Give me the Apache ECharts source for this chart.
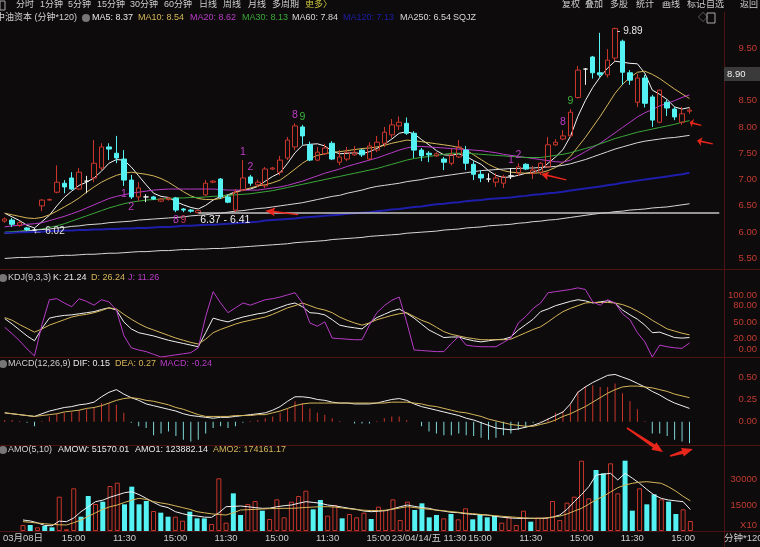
<!DOCTYPE html>
<html>
<head>
<meta charset="utf-8">
<script src="https://cdn.jsdelivr.net/npm/echarts@6/dist/echarts.min.js"></script>
<style>
  html, body { margin: 0; padding: 0; background: #0d0b0b; }
  #chart { width: 760px; height: 547px; }
</style>
</head>
<body>
<div id="chart"></div>
<script>
// [open, close, low, high] per 120-minute bar
const candles = [
  [6.21,6.25,6.18,6.28],[6.23,6.15,6.10,6.27],[6.13,6.18,6.10,6.21],[6.08,6.05,6.02,6.10],[6.04,6.04,6.02,6.08],
  [6.50,6.61,6.40,6.63],[6.61,6.62,6.60,6.64],[6.76,6.95,6.74,7.27],[6.93,6.86,6.74,6.99],[7.03,6.82,6.80,7.14],
  [6.82,7.14,6.80,7.22],[6.97,6.97,6.74,7.07],[7.03,7.31,6.95,7.75],[7.22,7.62,7.18,7.69],[7.62,7.58,7.37,7.69],
  [7.50,7.41,7.31,7.83],[7.39,6.99,6.88,7.56],[6.99,6.67,6.63,7.09],[6.67,6.84,6.59,6.95],[6.67,6.67,6.57,6.72],
  [6.67,6.63,6.61,6.69],[6.59,6.63,6.57,6.65],[6.62,6.65,6.60,6.67],[6.65,6.42,6.38,6.67],[6.44,6.42,6.38,6.46],
  [6.42,6.40,6.37,6.44],[6.37,6.41,6.36,6.42],[6.71,6.93,6.69,6.99],[6.95,6.97,6.93,6.99],[7.01,6.67,6.63,7.03],
  [6.67,6.57,6.55,6.71],[6.42,6.76,6.38,6.82],[6.80,7.03,6.78,7.37],[7.05,6.93,6.88,7.09],[6.90,6.95,6.86,7.00],
  [6.88,7.20,6.84,7.24],[7.20,7.22,7.18,7.24],[7.14,7.37,7.08,7.45],[7.41,7.75,7.37,7.81],[7.62,8.02,7.56,8.07],
  [8.00,7.83,7.66,8.04],[7.66,7.37,7.35,7.72],[7.37,7.52,7.35,7.62],[7.49,7.60,7.47,7.68],[7.69,7.39,7.37,7.73],
  [7.33,7.43,7.27,7.56],[7.39,7.52,7.35,7.62],[7.47,7.52,7.45,7.64],[7.56,7.47,7.43,7.58],[7.39,7.64,7.37,7.71],
  [7.56,7.71,7.52,7.83],[7.69,7.90,7.62,8.00],[7.85,8.04,7.79,8.15],[8.02,8.09,7.94,8.20],[8.07,7.88,7.85,8.18],
  [7.88,7.56,7.41,7.92],[7.56,7.45,7.35,7.60],[7.50,7.47,7.33,7.54],[7.45,7.49,7.43,7.52],[7.39,7.33,7.18,7.43],
  [7.31,7.47,7.27,7.58],[7.43,7.62,7.41,7.75],[7.56,7.31,7.18,7.64],[7.29,7.10,6.99,7.35],[7.10,7.03,6.95,7.18],
  [7.01,7.01,6.95,7.12],[6.95,7.03,6.86,7.12],[6.93,7.05,6.84,7.09],[7.07,7.07,7.01,7.22],[7.12,7.24,7.07,7.31],
  [7.29,7.20,7.18,7.31],[7.12,7.18,7.01,7.26],[7.14,7.31,7.09,7.33],[7.24,7.66,7.22,7.81],[7.66,7.71,7.64,7.77],
  [7.77,7.83,7.75,7.94],[7.83,8.28,7.81,8.34],[8.56,9.08,8.54,9.16],[9.10,9.10,8.80,9.12],[9.33,9.03,8.92,9.35],
  [9.03,8.99,8.94,9.79],[8.99,9.27,8.94,9.48],[9.31,9.87,9.25,9.89],[9.63,9.04,8.80,9.66],[9.03,8.89,8.80,9.08],
  [8.47,8.93,8.38,9.01],[8.93,8.45,8.37,8.99],[8.57,8.13,8.00,8.61],[8.09,8.70,8.07,8.71],[8.47,8.36,8.21,8.52],
  [8.34,8.19,8.13,8.38],[8.09,8.25,8.04,8.38],[8.30,8.32,8.25,8.36]
];

const ma5 = [6.36,6.29,6.22,6.13,6.08,6.20,6.32,6.50,6.66,6.78, 6.89,6.95,7.03,7.16,7.31,7.38,7.37,7.24,7.07,6.90,
  6.74,6.68,6.66,6.58,6.52,6.47,6.44,6.51,6.61,6.68, 6.71,6.77,6.80,6.82,6.87,6.97,7.06,7.13,7.31,7.51,
  7.65,7.67,7.68,7.64,7.54,7.49,7.50,7.51,7.49,7.53, 7.59,7.67,7.77,7.88,7.91,7.87,7.76,7.66,7.55,7.47,
  7.46,7.49,7.44,7.36,7.29,7.17,7.08,7.04,7.05,7.08, 7.12,7.14,7.19,7.31,7.43,7.57,7.82,8.20,8.50,8.75,
  8.95,9.12,9.25,9.23,9.21,9.20,9.02,8.70,8.62,8.52, 8.38,8.34,8.37];
const ma10 = [6.36,6.33,6.30,6.27,6.26,6.28,6.33,6.40,6.48,6.56, 6.65,6.76,6.86,6.95,7.02,7.08,7.12,7.14,7.12,7.10,
  7.07,7.02,6.95,6.86,6.77,6.69,6.64,6.62,6.62,6.64, 6.69,6.75,6.80,6.84,6.88,6.90,6.94,6.99,7.09,7.20,
  7.31,7.40,7.46,7.49,7.52,7.53,7.55,7.57,7.59,7.60, 7.62,7.65,7.69,7.72,7.75,7.74,7.72,7.70,7.68,7.66,
  7.64,7.61,7.56,7.47,7.38,7.29,7.22,7.17,7.14,7.13, 7.12,7.12,7.13,7.17,7.23,7.32,7.44,7.62,7.80,8.00,
  8.20,8.42,8.64,8.81,8.94,9.04,9.06,9.00,8.92,8.82, 8.72,8.63,8.54];
const ma20 = [6.10,6.12,6.13,6.15,6.16,6.18,6.22,6.26,6.30,6.35, 6.40,6.46,6.52,6.58,6.64,6.68,6.71,6.74,6.76,6.78,
  6.80,6.81,6.82,6.82,6.82,6.82,6.82,6.82,6.82,6.81, 6.80,6.80,6.80,6.80,6.80,6.82,6.84,6.86,6.89,6.93,
  6.97,7.02,7.07,7.12,7.16,7.20,7.25,7.29,7.33,7.37, 7.41,7.46,7.51,7.56,7.60,7.63,7.63,7.62,7.61,7.60,
  7.59,7.58,7.57,7.56,7.55,7.53,7.51,7.48,7.46,7.44, 7.42,7.40,7.38,7.36,7.34,7.33,7.37,7.45,7.53,7.61,
  7.69,7.79,7.89,7.99,8.09,8.19,8.27,8.33,8.40,8.45, 8.50,8.56,8.61];
const ma30 = [6.00,6.01,6.02,6.03,6.04,6.06,6.09,6.12,6.16,6.21, 6.26,6.31,6.36,6.41,6.46,6.50,6.54,6.57,6.59,6.61,
  6.62,6.63,6.64,6.65,6.65,6.66,6.66,6.67,6.68,6.69, 6.70,6.71,6.72,6.73,6.75,6.77,6.79,6.82,6.85,6.88,
  6.91,6.94,6.97,7.00,7.03,7.06,7.09,7.12,7.15,7.18, 7.21,7.25,7.29,7.33,7.37,7.40,7.42,7.44,7.46,7.48,
  7.50,7.50,7.50,7.49,7.48,7.47,7.46,7.45,7.44,7.43, 7.42,7.42,7.42,7.44,7.46,7.48,7.51,7.55,7.59,7.63,
  7.68,7.73,7.78,7.82,7.86,7.90,7.93,7.96,7.99,8.02, 8.05,8.09,8.12];
const ma60 = [5.98,5.99,6.01,6.02,6.04,6.05,6.06,6.08,6.09,6.11, 6.12,6.14,6.15,6.16,6.18,6.19,6.20,6.21,6.23,6.24,
  6.25,6.26,6.27,6.28,6.29,6.31,6.32,6.33,6.35,6.36, 6.38,6.40,6.41,6.43,6.45,6.46,6.48,6.50,6.52,6.54,
  6.56,6.59,6.62,6.65,6.68,6.70,6.74,6.77,6.80,6.84, 6.87,6.89,6.91,6.93,6.96,6.98,7.00,7.03,7.05,7.07,
  7.09,7.11,7.13,7.15,7.17,7.18,7.19,7.20,7.21,7.21, 7.22,7.22,7.23,7.24,7.25,7.27,7.30,7.34,7.38,7.43,
  7.48,7.53,7.58,7.62,7.66,7.70,7.73,7.75,7.77,7.79, 7.80,7.82,7.84];
const ma120 = [5.99,5.99,6.00,6.00,6.01,6.01,6.02,6.02,6.03,6.03, 6.04,6.04,6.05,6.05,6.06,6.06,6.07,6.07,6.08,6.08,
  6.09,6.10,6.10,6.11,6.12,6.12,6.13,6.14,6.14,6.15, 6.16,6.17,6.18,6.19,6.20,6.22,6.23,6.24,6.25,6.26,
  6.28,6.29,6.30,6.31,6.32,6.33,6.35,6.36,6.37,6.38, 6.40,6.41,6.43,6.44,6.46,6.48,6.49,6.51,6.53,6.54,
  6.56,6.57,6.59,6.60,6.61,6.63,6.64,6.65,6.66,6.68, 6.69,6.71,6.72,6.74,6.75,6.77,6.79,6.81,6.83,6.85,
  6.87,6.89,6.91,6.94,6.96,6.98,7.00,7.02,7.04,7.06, 7.08,7.10,7.13];
const ma250 = [5.50,5.51,5.52,5.52,5.53,5.53,5.54,5.55,5.56,5.56, 5.57,5.58,5.58,5.59,5.60,5.60,5.61,5.62,5.63,5.63,
  5.64,5.65,5.65,5.66,5.67,5.67,5.68,5.68,5.69,5.69, 5.70,5.71,5.72,5.73,5.74,5.75,5.76,5.77,5.78,5.80,
  5.81,5.82,5.83,5.84,5.86,5.87,5.88,5.89,5.90,5.92, 5.93,5.94,5.95,5.96,5.98,5.99,6.00,6.01,6.02,6.04,
  6.05,6.06,6.08,6.09,6.10,6.12,6.13,6.14,6.15,6.17, 6.18,6.20,6.21,6.23,6.24,6.26,6.28,6.30,6.32,6.34,
  6.36,6.37,6.39,6.40,6.42,6.43,6.44,6.46,6.47,6.48, 6.50,6.52,6.54];

const kdjK = [56,46,35,24,15,38,57,60,62,63, 65,67,69,73,76,72,50,37,30,27, 24,20,16,13,10,7,4,30,57,53,
  50,55,59,62,65,67,72,77,82,85, 78,67,66,63,54,44,41,39,37,48, 58,64,70,74,66,57,46,35,28,21,
  22,22,18,15,13,15,17,18,22,35, 45,55,69,74,80,84,88,91,89,85, 87,89,85,72,63,55,44,30,31,26, 21,20,21];
const kdjD = [58,53,45,38,31,37,44,49,54,59, 62,64,67,71,76,74,64,55,47,40, 35,30,25,20,16,12,9,18,30,36,
  41,46,50,53,56,59,64,70,76,80, 85,80,75,72,67,59,53,48,44,48, 54,58,62,65,67,60,53,48,40,32,
  27,24,21,19,17,17,17,17,18,24, 30,36,41,50,60,69,75,80,85,86, 86,86,85,82,77,70,62,53,45,37, 33,29,26];
const kdjJ = [40,28,15,0,-13,45,91,93,85,78, 93,88,81,91,87,72,25,2,-2,-5, -10,-15,-13,-11,-9,-7,2,60,106,85,
  67,76,85,81,86,91,93,96,100,104, 85,48,42,50,20,19,18,17,17,44, 67,80,90,96,50,-2,-3,-4,-5,-5,
  10,23,7,5,4,4,4,12,20,48, 60,75,85,104,106,108,110,113,110,87, 81,91,85,65,54,30,13,-15,7,4, 2,1,11];

const dif = [0.10,0.09,0.08,0.07,0.06,0.09,0.12,0.14,0.16,0.17, 0.19,0.20,0.22,0.28,0.33,0.36,0.31,0.27,0.24,0.20,
  0.18,0.16,0.14,0.12,0.09,0.07,0.06,0.05,0.04,0.05, 0.05,0.06,0.07,0.08,0.09,0.10,0.13,0.17,0.23,0.28,
  0.28,0.27,0.25,0.24,0.22,0.21,0.21,0.20,0.20,0.20, 0.21,0.23,0.25,0.26,0.24,0.20,0.17,0.15,0.13,0.11,
  0.09,0.07,0.04,0.02,-0.01,-0.04,-0.07,-0.08,-0.09,-0.08, -0.06,-0.04,-0.01,0.03,0.07,0.11,0.20,0.33,0.39,0.44,
  0.48,0.52,0.53,0.50,0.47,0.43,0.39,0.34,0.30,0.25, 0.21,0.18,0.15];
const dea = [0.10,0.09,0.08,0.07,0.06,0.07,0.08,0.09,0.11,0.12, 0.13,0.15,0.16,0.18,0.21,0.24,0.26,0.27,0.26,0.24,
  0.23,0.21,0.19,0.16,0.14,0.11,0.08,0.06,0.06,0.06, 0.06,0.07,0.07,0.07,0.08,0.08,0.10,0.12,0.15,0.18,
  0.20,0.21,0.21,0.21,0.21,0.21,0.21,0.21,0.21,0.21, 0.21,0.21,0.22,0.22,0.22,0.21,0.20,0.18,0.17,0.15,
  0.13,0.11,0.10,0.08,0.06,0.03,0.01,-0.01,-0.03,-0.04, -0.05,-0.05,-0.03,-0.01,0.02,0.06,0.09,0.13,0.17,0.22,
  0.27,0.32,0.36,0.39,0.40,0.40,0.39,0.38,0.36,0.34, 0.31,0.29,0.27];
const macdHist = [0.02,0.02,0.01,-0.01,-0.05,0.01,0.06,0.09,0.10,0.11, 0.13,0.14,0.16,0.21,0.21,0.19,0.10,-0.01,-0.05,-0.07,
  -0.15,-0.13,-0.11,-0.16,-0.20,-0.22,-0.20,-0.13,-0.07,-0.05, -0.07,-0.05,-0.01,0.01,0.02,0.04,0.06,0.10,0.15,0.23,
  0.21,0.15,0.10,0.08,0.04,0.01,0.00,-0.02,-0.02,-0.02, 0.01,0.04,0.06,0.06,0.02,0.00,-0.05,-0.11,-0.13,-0.15,
  -0.15,-0.13,-0.15,-0.16,-0.18,-0.20,-0.18,-0.15,-0.13,-0.09, -0.07,-0.01,0.01,0.04,0.10,0.12,0.19,0.34,0.40,0.41,
  0.39,0.39,0.43,0.32,0.23,0.14,0.01,-0.13,-0.13,-0.16, -0.20,-0.22,-0.24];

// amount, shown in units of x10
const amount = [3460,3460,2115,2885,2115,19800,960,24620,8270,20195, 15580,16930,25965,27885,15390,25580,15390,17310,11540,10580,
  8270,8270,5960,11155,7310,7310,4040,30390,4810,21735, 9230,15580,17310,11735,6925,18270,7885,16930,20195,23270,
  12500,17890,8850,15000,7310,9810,7885,10580,6925,14040, 12120,18270,6350,16930,12120,15970,7885,9230,7310,9810,
  6730,13080,6730,9810,7885,8655,4810,7885,3460,11735, 5385,7690,7690,17310,6350,16350,19810,40580,18850,35200,
  33270,39040,21735,40580,11735,24620,15390,21160,18270,16930, 9810,12500,5770];
const amo1 = [6350,5800,4700,3200,3000,5700,5400,7500,11150,14000, 16930,17800,19500,20770,22100,22700,21000,18850,16500,14500,
  13500,11150,10000,9000,8650,8000,7880,10500,14040,14200, 14420,14000,13500,13080,13200,14000,14600,15000,16000,16930,
  16500,16000,15000,14500,13800,13080,12500,11500,11150,11400, 11735,12800,14000,15000,14200,13500,13080,12000,11500,10800,
  10580,10000,9600,9300,9230,8500,8000,7600,7310,7300, 7300,7310,7310,8000,9230,12500,16930,21000,25580,32300,
  32800,33270,29430,33270,30500,27500,24000,20770,18800,17890, 17400,16930,12388];
const amo2 = [5400,5000,4600,4200,3800,3600,3460,4800,6350,8500, 10500,12500,14000,15000,16500,17800,18850,18200,17000,16200,
  15500,14500,13500,12500,11150,10500,9900,9500,9230,10500, 12120,12300,12500,12700,12900,13000,13080,13080,13300,13600,
  13800,14040,14040,13800,13300,12800,12300,12000,11800,11800, 12000,12600,13300,14040,13500,13000,12500,12120,11700,11200,
  10800,10300,10000,9600,9200,8900,8500,8200,7900,7600, 7400,7310,7500,8000,8600,9800,11500,13080,15500,18000,
  20000,22500,25000,26540,27500,28200,28460,28000,27500,25500, 23000,20000,17416];

// x-axis tick labels: bar index -> text
const tickIdx  = [0, 7, 14, 21, 28, 35, 42, 49, 56, 63, 70, 77, 84, 91];
const tickText = ['03月08日','15:00','11:30','15:00','11:30','15:00','11:30','15:00','23/04/14/五 11:30','15:00','11:30','15:00','11:30','15:00'];
const priceTicks = [5.5, 6.0, 6.5, 7.0, 7.5, 8.0, 8.5, 9.5];
const kdjTicks = [0, 20, 50, 80, 100];
const macdTicks = [0, 0.25, 0.5];
const amoTicks = [0, 15000, 30000];

// sequence counts: [bar index, text, 'high' | 'low', colour]
const tdMarks = [[16,'1','low','#c03cc8'],[17,'2','low','#c03cc8'],[23,'8','low','#c03cc8'],[24,'9','low','#d0306a'],
  [32,'1','high','#c03cc8'],[33,'2','high','#c03cc8'],[39,'8','high','#c03cc8'],[40,'9','high','#3cb43c'],
  [68,'1','high','#c03cc8'],[69,'2','high','#c03cc8'],[75,'8','high','#c03cc8'],[76,'9','high','#3cb43c']];
const support = { from: 26, price: 6.37, upper: 6.41 };
const lowMark = { idx: 4, price: 6.02 };
const highMark = { idx: 82, price: 9.89 };
const lastPrice = 8.90;
const padBars = 4;

const RED = '#c8362c', CYAN = '#54f2f2', YEL = '#d6b65a', MAG = '#b83cc8', GRN = '#3aa83a', BLUE = '#1e1eaa';
const AXRED = '#c23c32', GRID = '#4e1212';
const FONT = '"Liberation Sans", Arial, "Noto Sans CJK SC", sans-serif';
const FS = 9;

const categories = Array.from({ length: candles.length + padBars }, (_, i) => i);
const chart = echarts.init(document.getElementById('chart'));

const grids = [
  { left: 1, right: 36, top: 27, height: 242 },
  { left: 1, right: 36, top: 285, height: 72 },
  { left: 1, right: 36, top: 370, height: 75 },
  { left: 1, right: 36, top: 457, height: 74 }
];

function xAxis (gi, showLabel) {
  return {
    type: 'category', gridIndex: gi, data: categories, boundaryGap: true,
    axisLine: { show: false }, axisTick: { show: false }, splitLine: { show: false },
    axisLabel: {
      show: showLabel, interval: 0, margin: 3, color: '#cfcfcf', fontSize: 9.5, fontFamily: FONT,
      formatter: (v, i) => { const k = tickIdx.indexOf(i); return k >= 0 ? tickText[k] : '' }
    }
  };
}
function yAxis (gi, min, max, ticks, fmt) {
  return {
    type: 'value', gridIndex: gi, position: 'right', min, max, scale: true,
    axisLine: { show: false }, axisTick: { show: false }, splitLine: { show: false },
    axisLabel: { customValues: ticks, formatter: fmt, color: AXRED, fontSize: 9.5, fontFamily: FONT, align: 'right', margin: 34,
      rich: { x: { color: AXRED, fontSize: 9.5, fontFamily: FONT, padding: [0, 0, 12, 0] } } }
  };
}
function line (name, data, color, xi, width) {
  return { name, type: 'line', xAxisIndex: xi, yAxisIndex: xi, data, symbol: 'none', silent: true,
    lineStyle: { color, width: width || 1 }, z: 3 };
}

const arrowPath = 'path://M0,5L12,0L10,4L40,4.3L40,5.7L10,6L12,10Z';
function arrowMark (idx, price, len, rot) {
  return { coord: [idx, price], symbol: arrowPath, symbolSize: [len, 9], symbolRotate: rot,
    symbolOffset: [len / 2, 0], itemStyle: { color: '#e8261c' }, label: { show: false } };
}

const markData = tdMarks.map(([i, t, side, c]) => ({
  coord: [i, side === 'high' ? candles[i][3] : candles[i][2]],
  symbol: 'circle', symbolSize: 0,
  label: { show: true, formatter: t, color: c, fontSize: 10.5, fontFamily: FONT, offset: [0, side === 'high' ? -8 : 8] }
}));
markData.push({ coord: [lowMark.idx, lowMark.price], symbol: 'circle', symbolSize: 0,
  label: { show: true, position: 'right', distance: -2, formatter: '← ' + lowMark.price.toFixed(2), color: '#e8e8e8', fontSize: 10, fontFamily: FONT } });
markData.push({ coord: [highMark.idx, highMark.price], symbol: 'circle', symbolSize: 0,
  label: { show: true, position: 'right', distance: 2, offset: [0, 4], formatter: '- ' + highMark.price.toFixed(2), color: '#e8e8e8', fontSize: 10, fontFamily: FONT } });
markData.push(arrowMark(35, support.price, 33, -7));
markData.push(arrowMark(72, 7.05, 26, -13));
markData.push(arrowMark(92, 8.06, 12, -15));
markData.push(arrowMark(93, 7.71, 16, -12));

function txt (x, y, text, color, size) {
  return { type: 'text', x, y, silent: true,
    style: { text, fill: color, fontSize: size || FS, fontFamily: FONT, textVerticalAlign: 'middle' } };
}
function hline (y) {
  return { type: 'line', silent: true, shape: { x1: 0, y1: y, x2: 760, y2: y }, style: { stroke: GRID, lineWidth: 1 } };
}
function arrowGfx (x1, y1, x2, y2) {
  const dx = x2 - x1, dy = y2 - y1, L = Math.hypot(dx, dy), ux = dx / L, uy = dy / L, px = -uy, py = ux;
  const hx = x2 - ux * 11, hy = y2 - uy * 11;
  return { type: 'polygon', silent: true, style: { fill: '#e8261c' },
    shape: { points: [[x1 + px * 0.8, y1 + py * 0.8], [hx + px * 1.8, hy + py * 1.8], [hx + px * 4.5, hy + py * 4.5], [x2, y2],
      [hx - px * 4.5, hy - py * 4.5], [hx - px * 1.8, hy - py * 1.8], [x1 - px * 0.8, y1 - py * 0.8]] } };
}

const toolbar = [['分时',16],['1分钟',40],['5分钟',68],['15分钟',97],['30分钟',130],['60分钟',164],['日线',199],['周线',223],['月线',248],['多周期',272]];
const buttons = [['复权',562],['叠加',585],['多股',610],['统计',636],['画线',662],['标记',687],['-自选',703],['返回',740]];
const maLegend = [['MA5: 8.37','#e8e8e8',92],['MA10: 8.54',YEL,138],['MA20: 8.62',MAG,190],['MA30: 8.13',GRN,242],
  ['MA60: 7.84','#d8d8d8',292],['MA120: 7.13',BLUE,343],['MA250: 6.54','#d8d8d8',400],['SQJZ','#d8d8d8',453]];
const kdjLegend = [['KDJ(9,3,3)','#d0d0d0',8],['K: 21.24','#e8e8e8',53],['D: 26.24',YEL,91],['J: 11.26',MAG,128]];
const macdLegend = [['MACD(12,26,9)','#d0d0d0',8],['DIF: 0.15','#e8e8e8',73],['DEA: 0.27',YEL,115],['MACD: -0.24',MAG,160]];
const amoLegend = [['AMO(5,10)','#d0d0d0',8],['AMOW: 51570.01','#e8e8e8',58],['AMO1: 123882.14','#e8e8e8',135],['AMO2: 174161.17',YEL,213]];

const graphic = [
  hline(269.5), hline(357.5), hline(445.5), hline(531.5),
  { type: 'line', silent: true, shape: { x1: 724.5, y1: 12, x2: 724.5, y2: 547 }, style: { stroke: GRID, lineWidth: 1 } },
  { type: 'rect', silent: true, shape: { x: 0, y: 1, width: 5, height: 9 }, style: { fill: 'none', stroke: '#aaa' } },
  txt(-4, 18, '中油资本 (分钟*120)', '#d0d0d0'),
  { type: 'circle', silent: true, shape: { cx: 86, cy: 18, r: 4 }, style: { fill: '#777' } },
  { type: 'circle', silent: true, shape: { cx: 3, cy: 278, r: 4 }, style: { fill: '#777' } },
  { type: 'circle', silent: true, shape: { cx: 3, cy: 364, r: 4 }, style: { fill: '#777' } },
  { type: 'circle', silent: true, shape: { cx: 3, cy: 450, r: 4 }, style: { fill: '#777' } },
  txt(698, 18, '◇', '#999', 10),
  { type: 'rect', silent: true, shape: { x: 707, y: 13, width: 8, height: 10 }, style: { fill: 'none', stroke: '#aaa' } },
  { type: 'rect', silent: true, shape: { x: 724, y: 67, width: 36, height: 14 }, style: { fill: '#3a3a3a' } },
  txt(727, 74.5, lastPrice.toFixed(2), '#f0f0f0', 9.5),
  txt(724, 538, '分钟*120', '#cfcfcf', 9.5),
  txt(305, 5, '更多〉', '#c8c23c'),
  arrowGfx(627, 428, 663, 452),
  arrowGfx(670, 456, 693, 449)
];
toolbar.forEach(([t, x]) => graphic.push(txt(x, 5, t, '#cfcfcf')));
buttons.forEach(([t, x]) => graphic.push(txt(x, 5, t, '#cfcfcf')));
[[maLegend, 18], [kdjLegend, 278], [macdLegend, 364], [amoLegend, 450]].forEach(([items, y]) =>
  items.forEach(([t, c, x]) => graphic.push(txt(x, y, t, c))));

const amoBars = amount.map((v, i) => {
  const [o, c] = candles[i];
  const prev = i > 0 ? candles[i - 1][1] : o;
  const up = c > o || (c === o && c >= prev);
  return { value: v, itemStyle: up ? { color: 'rgba(0,0,0,0)', borderColor: RED, borderWidth: 1 } : { color: CYAN } };
});
const macdBars = macdHist.map(v => ({ value: v, itemStyle: { color: v >= 0 ? RED : '#7fd8d8' } }));

chart.setOption({
  backgroundColor: '#0d0b0b',
  animation: false,
  grid: grids,
  xAxis: [xAxis(0, false), xAxis(1, false), xAxis(2, false), xAxis(3, true)],
  yAxis: [
    yAxis(0, 5.3, 9.9, priceTicks, v => v.toFixed(2)),
    yAxis(1, -15, 118.3, kdjTicks, v => v.toFixed(2)),
    yAxis(2, -0.26, 0.58, macdTicks, v => v.toFixed(2)),
    yAxis(3, 0, 42700, amoTicks, v => v === 0 ? '{x|X10}' : String(v))
  ],
  graphic,
  series: [
    {
      name: 'K', type: 'candlestick', xAxisIndex: 0, yAxisIndex: 0, data: candles, barWidth: 5, z: 4,
      itemStyle: { color: 'rgba(0,0,0,0)', color0: CYAN, borderColor: RED, borderColor0: CYAN, borderColorDoji: '#f0f0f0', borderWidth: 1 },
      markLine: {
        silent: true, symbol: ['none', 'none'], animation: false,
        lineStyle: { color: '#c4c4c4', width: 1.5, type: 'solid' },
        label: { show: true, position: 'insideStartBottom', formatter: support.price.toFixed(2) + ' - ' + support.upper.toFixed(2),
          color: '#f0f0f0', fontSize: 10.5, fontFamily: FONT, distance: [2, 2] },
        data: [[{ coord: [support.from, support.price] }, { coord: [categories.length - 1, support.price] }]]
      },
      markPoint: { silent: true, animation: false, data: markData }
    },
    line('MA5', ma5, '#f4f4f4', 0),
    line('MA10', ma10, YEL, 0),
    line('MA20', ma20, MAG, 0),
    line('MA30', ma30, GRN, 0),
    line('MA60', ma60, '#d8d8d8', 0),
    line('MA120', ma120, BLUE, 0, 2),
    line('MA250', ma250, '#d8d8d8', 0),
    line('K', kdjK, '#f0f0f0', 1),
    line('D', kdjD, YEL, 1),
    line('J', kdjJ, MAG, 1),
    { name: 'MACD', type: 'bar', xAxisIndex: 2, yAxisIndex: 2, data: macdBars, barWidth: 1, silent: true },
    line('DIF', dif, '#f0f0f0', 2),
    line('DEA', dea, YEL, 2),
    { name: 'AMO', type: 'bar', xAxisIndex: 3, yAxisIndex: 3, data: amoBars, barWidth: 5, silent: true },
    line('AMO1', amo1, '#f0f0f0', 3),
    line('AMO2', amo2, YEL, 3)
  ]
});
</script>
</body>
</html>
